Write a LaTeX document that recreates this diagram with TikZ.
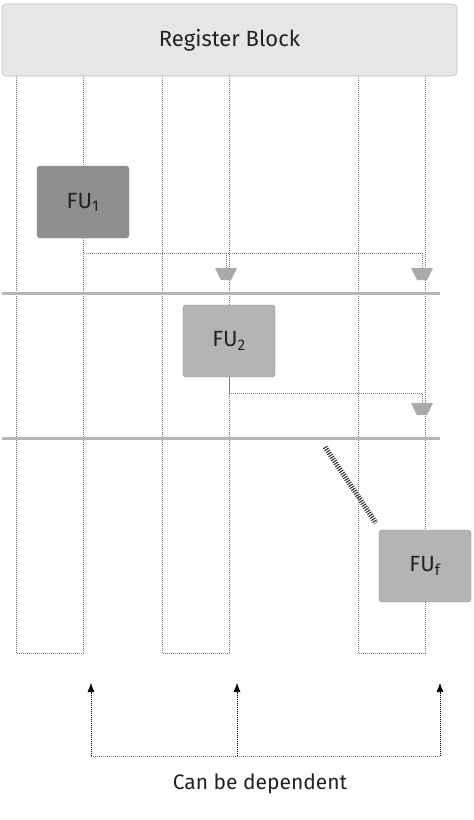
\documentclass[tikz,border=0pt]{standalone}
\usepackage{fontspec}
\setmainfont{Fira Sans}
\usetikzlibrary{arrows.meta}

\definecolor{regfill}{RGB}{230,230,232}
\definecolor{regline}{RGB}{190,190,192}
\definecolor{fudark}{RGB}{142,142,142}
\definecolor{fulight}{RGB}{180,180,180}
\definecolor{bargray}{RGB}{182,182,182}
\definecolor{tapgray}{RGB}{170,170,170}
\definecolor{dotgray}{RGB}{120,120,120}
\definecolor{ink}{RGB}{34,34,34}

\begin{document}
\begin{tikzpicture}[x=1pt, y=-1pt, >=Latex,
    guide/.style={dotgray, line width=0.6pt, dash pattern=on 0.8pt off 1.2pt},
    bar/.style={bargray, line width=3pt},
    fu/.style={rounded corners=3pt, draw=fulight!80!black, line width=0.4pt,
        minimum width=92pt, minimum height=72pt, text=ink,
        font=\fontsize{22}{24}\selectfont}]

    \useasboundingbox (0,0) rectangle (474,820);

    % columns (three lanes, open at the top)
    \foreach \l/\r in {16/83, 162/229, 358/425}
        \draw[guide] (\l,76) -- (\l,653) -- (\r,653) -- (\r,76);

    % register block
    \node[rounded corners=4pt, draw=regline, fill=regfill, line width=0.6pt,
        minimum width=455pt, minimum height=72pt, text=ink,
        font=\fontsize{22}{24}\selectfont] (reg) at (229.5,40) {Register Block};

    % pipeline stage separators
    \draw[bar] (2,293) -- (440,293);
    \draw[bar] (2,438) -- (440,438);

    % merge points
    \coordinate (m1) at (226,268);
    \coordinate (m2) at (422,268);
    \coordinate (m3) at (422,403);

    % functional units
    \node[fu, fill=fudark]  (fu1) at (83,202)  {FU\textsubscript{1}};
    \node[fu, fill=fulight] (fu2) at (229,341) {FU\textsubscript{2}};
    \node[fu, fill=fulight] (fuf) at (425,566) {FU\textsubscript{f}};

    % forwarding paths
    \coordinate (s1) at (83,253);
    \coordinate (s2) at (229,393);
    \draw[guide] (fu1.south) -- (s1) -| (m2);
    \draw[guide] (s1 -| m1) -- (m1);
    \draw[guide] (fu2.south) -- (s2) -| (m3);

    \foreach \m in {m1,m2,m3}
        \fill[tapgray, shift={(\m)}] (-11,0) -- (11,0) -- (5,12) -- (-5,12) -- cycle;

    % skipped stages
    \draw[ink, line width=5pt, dash pattern=on 1pt off 1.4pt] (325,447) -- (376,523);

    % dependency arrows
    \coordinate (d1) at (91,756);
    \coordinate (d2) at (237,756);
    \coordinate (d3) at (440,756);
    \draw[guide] (d1) -- (d3);
    \foreach \d in {d1,d2,d3}
        \draw[guide, -{Latex[length=9pt, width=7pt]}, black] (\d) -- ++(0,-73);

    \node[text=ink, font=\fontsize{21}{24}\selectfont] (dep) at (260,784) {Can be dependent};

\end{tikzpicture}
\end{document}
